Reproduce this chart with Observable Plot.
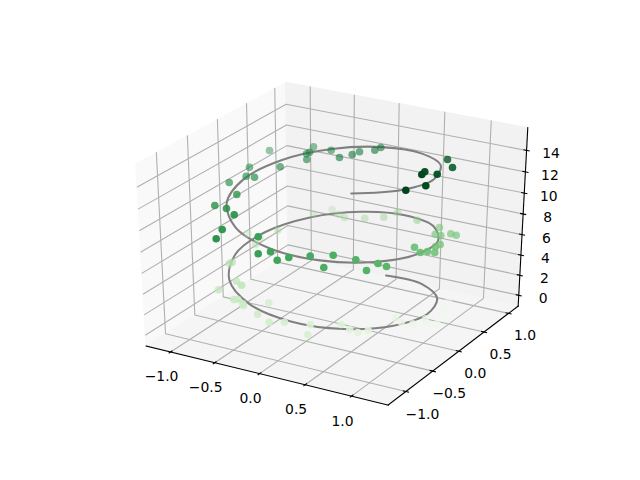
<!DOCTYPE html>
<html><head><meta charset="utf-8">
<script src="https://cdn.jsdelivr.net/npm/d3@7"></script>
<script src="https://cdn.jsdelivr.net/npm/@observablehq/plot@0.6"></script>
<style>html,body{margin:0;padding:0;background:#fff}svg{display:block}</style>
</head><body><div id="chart"></div>
<script>
// Axis limits
const xLimits = [-1.226, 1.335];
const yLimits = [-1.27, 1.15];
const zLimits = [-0.75, 15.75];
const shadeRange = [0.5, 14.44];
const xTicks = [-1, -0.5, 0, 0.5, 1];
const yTicks = [-1, -0.5, 0, 0.5, 1];
const zTicks = [0, 2, 4, 6, 8, 10, 12, 14];
const xTickLabels = ["−1.0", "−0.5", "0.0", "0.5", "1.0"];
const yTickLabels = ["−1.0", "−0.5", "0.0", "0.5", "1.0"];
const zTickLabels = ["0", "2", "4", "6", "8", "10", "12", "14"];

// Helix knots
const lineZ = [0,.5,1,1.5,2,2.5,3,3.5,4,4.5,5,5.5,6,6.5,7,7.5,8,8.5,9,9.5,10,10.5,11,11.5,12,12.5,13,13.5,14,14.5,15];
const lineX = [0,.479,.841,.997,.909,.598,.141,-.351,-.757,-.978,-.959,-.706,-.279,.215,.657,.938,.989,.798,.412,-.075,-.544,-.880,-1,-.875,-.537,-.066,.42,.804,.991,.935,.65];
const lineY = [1,.878,.54,.071,-.416,-.801,-.99,-.936,-.654,-.211,.284,.709,.96,.977,.754,.347,-.146,-.602,-.911,-.997,-.839,-.476,.004,.483,.844,.998,.907,.598,.137,-.355,-.76];

// Scatter: position on the image plane and height value (colour)
const pointU = [448,445.7,441.7,436.3,425,425.7,412.3,401,395,367.7,357.3,349.3,340.7,309.7,307.3,284,268.7,257,268.3,242.3,243,237.3,233.3,218,241,236,231.7,229,255,259.3,247.7,277.3,313,331.7,338.3,344,364.3,383.3,397,416.7,439,434.7,440.3,450.3,455.7,439.7,435,414,419.7,427,434.3,386,377.5,366,355.3,332.7,323.3,309.7,288.3,276.7,270,257.7,257.7,221.7,215.7,233.7,226,214.3,236.3,228.7,254,245.7,249,279.7,269,306.3,306,309,313,330.7,339,351.7,359,374.3,380.3,447,452,436.7,424.3,421.3,425.3,405.3];
const pointV = [300,308.3,311,323.3,318.3,322.7,323.3,321.7,317.7,330,332,329.3,324,324,334.3,321.7,321.7,313.7,302.3,303.3,305,299,299,289.3,284.7,280.7,261.7,263,244,237.3,233.3,230,213.3,209,213.7,217,217.7,216.7,212,219.7,227,233.7,235,233.3,234.7,244,246.3,246.7,252,251,252,266,263,270,259.3,254.7,267,255.5,257,259.7,251.3,253.3,236.3,229,238.3,214.3,208,205,194,182,176.7,175.7,166.7,166.3,150,159,153.3,151.7,146.3,149.7,157,154,151.3,149.7,147,159,167,173.7,171.3,174,185.3,189.7];
const pointZ = [1,1.2,1.3,1.3,1.58,1.57,1.78,1.93,2,2.29,2.4,2.47,2.56,2.85,2.88,3.12,3.29,3.45,3.3,3.69,3.68,3.81,3.93,4.1,4.64,4.53,4.9,4.9,4.89,4.95,4.77,5.17,5.54,5.72,5.78,5.84,6.03,6.23,6.38,6.64,7.18,7.2,7.3,7.3,7.3,7.4,7.63,8.04,7.95,7.82,7.65,8.38,8.47,8.59,8.7,8.91,9,9.13,9.35,9.48,9.56,9.72,9.8,10.3,10.4,10.73,10.6,10.5,10.81,10.8,11.15,11,11.07,11.47,11.35,11.76,11.76,11.79,11.82,11.99,12.07,12.19,12.26,12.41,12.48,13.6,13.6,13.85,14.15,14.21,14.14,14.44];

// Camera
const rad = Math.PI / 180, elev = 30 * rad, azim = -60 * rad, dist = 10;
const n = [Math.cos(elev) * Math.cos(azim), Math.cos(elev) * Math.sin(azim), Math.sin(elev)];
const un = Math.hypot(n[1], n[0]);
const u = [-n[1] / un, n[0] / un, 0];
const v = [n[1] * u[2] - n[2] * u[1], n[2] * u[0] - n[0] * u[2], n[0] * u[1] - n[1] * u[0]];
const dot3 = (a, b) => a[0] * b[0] + a[1] * b[1] + a[2] * b[2];
const norm = (val, l) => (val - l[0]) / (l[1] - l[0]) - 0.5;
const cube = ([x, y, z]) => [norm(x, xLimits), norm(y, yLimits), norm(z, zLimits)];
const toU = xp => 80 + (xp + 0.095) / 0.185 * 496;
const toV = yp => 480 - (52.8 + (yp + 0.095) / 0.185 * 369.6);
function project(p) {
  const q = cube(p), w = dist - dot3(n, q);
  return [toU(dot3(u, q) / w), toV(dot3(v, q) / w)];
}
// Depth of a scatter point, from where it sits on the image plane and its height
function depthOf(su, sv, z) {
  const qz = norm(z, zLimits);
  let d = 0;
  for (let i = 0; i < 3; i++) {
    const U = ((su - 80) / 496 * 0.185 - 0.095) * (dist - d);
    const V = ((480 - sv - 52.8) / 369.6 * 0.185 - 0.095) * (dist - d) - v[2] * qz;
    const det = u[0] * v[1] - u[1] * v[0];
    const qx = (U * v[1] - u[1] * V) / det, qy = (u[0] * V - v[0] * U) / det;
    d = dot3(n, [qx, qy, qz]);
  }
  return d;
}

const pad = l => [l[0] - (l[1] - l[0]) / 48, l[1] + (l[1] - l[0]) / 48];
const [x0, x1] = pad(xLimits), [y0, y1] = pad(yLimits), [z0, z1] = pad(zLimits);
const path = (pts, key) => pts.map(p => { const [a, b] = project(p); return {a, b, key}; });

const panes = [
  {color: "#f9f9f9", pts: [[x0,y0,z0],[x0,y1,z0],[x0,y1,z1],[x0,y0,z1]]},
  {color: "#f2f2f2", pts: [[x0,y1,z0],[x1,y1,z0],[x1,y1,z1],[x0,y1,z1]]},
  {color: "#f5f5f5", pts: [[x0,y0,z0],[x1,y0,z0],[x1,y1,z0],[x0,y1,z0]]}
];
const grid = [
  ...xTicks.flatMap((t, i) => path([[t,y0,z0],[t,y1,z0],[t,y1,z1]], "x" + i)),
  ...yTicks.flatMap((t, i) => path([[x1,t,z0],[x0,t,z0],[x0,t,z1]], "y" + i)),
  ...zTicks.flatMap((t, i) => path([[x1,y1,t],[x0,y1,t],[x0,y0,t]], "z" + i))
];
const axisLines = [
  ...path([[x0,y0,z0],[x1,y0,z0]], "ax"),
  ...path([[x1,y0,z0],[x1,y1,z0]], "ay"),
  ...path([[x1,y1,z0],[x1,y1,z1]], "az")
];
const dy = (y1 - y0) / 12, dx = (x1 - x0) / 12;
const tick = (a, b) => { const [p, q] = [project(a), project(b)]; return {x1: p[0], y1: p[1], x2: q[0], y2: q[1]}; };
const tf = 0.15;
const ticks = [
  ...xTicks.map(t => tick([t, y0 - tf * dy, z0], [t, y0 + tf * dy, z0])),
  ...yTicks.map(t => tick([x1 + tf * dx, t, z0], [x1 - tf * dx, t, z0])),
  ...zTicks.map(t => tick([x1 + tf * dx, y1, t], [x1 - tf * dx, y1, t]))
];
const label = (p, text) => { const [a, b] = project(p); return {a, b, text}; };
const xLabels = xTicks.map((t, i) => label([t, y0, z0], xTickLabels[i]));
const yLabels = yTicks.map((t, i) => label([x1, t, z0], yTickLabels[i]));
const zLabels = zTicks.map((t, i) => label([x1, y1, t], zTickLabels[i]));

const helix = lineZ.map((z, i) => { const [a, b] = project([lineX[i], lineY[i], z]); return {a, b}; });
const depths = pointU.map((s, i) => depthOf(s, pointV[i], pointZ[i]));
const [dMin, dMax] = d3.extent(depths);
const points = pointU.map((a, i) => ({a, b: pointV[i], z: pointZ[i], alpha: Math.min(1, 1.15 - 0.85 * (dMax - depths[i]) / (dMax - dMin))}));

const textStyle = {x: "a", y: "b", text: "text", fontFamily: "DejaVu Sans", fontSize: 13.9, fill: "black"};
const chart = Plot.plot({
  width: 640, height: 480, margin: 0, axis: null,
  x: {domain: [0, 640], range: [0, 640]},
  y: {domain: [0, 480], range: [0, 480]},
  color: {type: "linear", domain: shadeRange, interpolate: d3.interpolateGreens},
  opacity: {domain: [0, 1], range: [0, 1]},
  marks: [
    ...panes.map(p => Plot.line(path(p.pts, "p"), {x: "a", y: "b", curve: "linear-closed", fill: p.color, stroke: p.color, strokeWidth: 1})),
    Plot.line(grid, {x: "a", y: "b", z: "key", stroke: "#b0b0b0", strokeWidth: 1.1}),
    Plot.line(axisLines, {x: "a", y: "b", z: "key", stroke: "black", strokeWidth: 1.1, strokeLinecap: "square"}),
    Plot.link(ticks, {x1: "x1", y1: "y1", x2: "x2", y2: "y2", stroke: "black", strokeWidth: 1.1}),
    Plot.text(xLabels, {...textStyle, dx: -9, dy: 25}),
    Plot.text(yLabels, {...textStyle, dx: 16.5, dy: 22.5}),
    Plot.text(zLabels, {...textStyle, dx: 24.5, dy: 3.5}),
    Plot.line(helix, {x: "a", y: "b", stroke: "#808080", strokeWidth: 2.08, curve: "catmull-rom"}),
    Plot.dot(points, {x: "a", y: "b", r: 3.8, fill: "z", fillOpacity: "alpha", stroke: "none"})
  ]
});
chart.style.background = "white";
document.getElementById("chart").append(chart);
</script></body></html>
